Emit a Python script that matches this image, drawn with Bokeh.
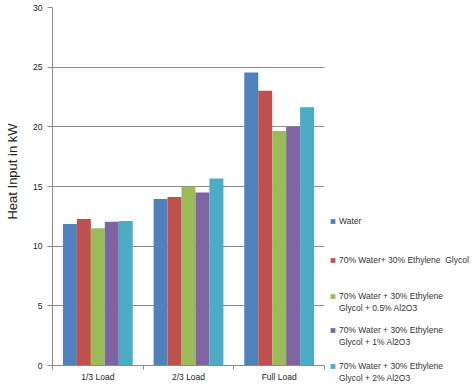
import numpy as np
from bokeh.plotting import figure
from bokeh.layouts import row
from bokeh.models import (ColumnDataSource, FixedTicker, Legend, LegendItem,
                          Label, Range1d)
from bokeh.transform import dodge
from bokeh.embed import file_html
from bokeh.resources import INLINE

categories = ["1/3 Load", "2/3 Load", "Full Load"]
series_labels = [
    ["Water"],
    ["70% Water+ 30% Ethylene  Glycol"],
    ["70% Water + 30% Ethylene", "Glycol + 0.5% Al2O3"],
    ["70% Water + 30% Ethylene", "Glycol + 1% Al2O3"],
    ["70% Water + 30% Ethylene", "Glycol + 2% Al2O3"],
]
water = [11.85, 13.95, 24.56]
water_eg = [12.27, 14.12, 23.03]
eg_al2o3_05 = [11.51, 14.98, 19.66]
eg_al2o3_1 = [12.04, 14.50, 20.00]
eg_al2o3_2 = [12.10, 15.66, 21.65]
series_values = [water, water_eg, eg_al2o3_05, eg_al2o3_1, eg_al2o3_2]
y_ticks = [0, 5, 10, 15, 20, 25, 30]
y_title = "Heat Input in kW"
colors = ["#4F81BD", "#C0504D", "#9BBB59", "#8064A2", "#4BACC6"]

FONT = "Liberation Sans"
GRID = "#8a8a8a"
H = 387

src = ColumnDataSource(dict(
    x=np.arange(len(categories)) + 0.5,
    **{f"s{i}": v for i, v in enumerate(series_values)},
))

# ---- y-axis title strip ----
yl = figure(width=26, height=H, output_backend="svg", toolbar_location=None,
            x_range=Range1d(0, 1), y_range=Range1d(0, 1), min_border=0,
            x_axis_location=None, y_axis_location=None)
yl.frame_align = False
yl.outline_line_color = None
yl.xgrid.grid_line_color = None
yl.ygrid.grid_line_color = None
yl.add_layout(Label(x=12, y=H - 171, x_units="screen", y_units="screen",
                    text=y_title, angle=np.pi / 2, text_align="center",
                    text_baseline="middle", text_font=FONT,
                    text_font_size="13px", text_color="#222222"))

# ---- main chart ----
p = figure(width=300, height=H, output_backend="svg", toolbar_location=None,
           x_range=Range1d(0, len(categories)), y_range=Range1d(0, 30),
           min_border_left=26, min_border_right=2, min_border_top=7,
           min_border_bottom=22)
p.outline_line_color = None
p.background_fill_color = "white"
p.border_fill_color = "white"

bw = 0.154
offsets = [-2 * bw, -bw, 0, bw, 2 * bw]
for i, (col, off) in enumerate(zip(colors, offsets)):
    p.vbar(x=dodge("x", off, range=p.x_range), top=f"s{i}", width=bw,
           source=src, fill_color=col, line_color=None)

p.yaxis.ticker = FixedTicker(ticks=y_ticks, minor_ticks=[])
p.yaxis.axis_line_color = GRID
p.yaxis.major_tick_line_color = GRID
p.yaxis.major_tick_out = 5
p.yaxis.major_tick_in = 0
p.yaxis.minor_tick_line_color = None
p.yaxis.major_label_text_font = FONT
p.yaxis.major_label_text_font_size = "8.5px"
p.yaxis.major_label_text_color = "#222222"
p.yaxis.major_label_standoff = 5

centers = list(np.arange(len(categories)) + 0.5)
p.xaxis.ticker = FixedTicker(ticks=centers,
                             minor_ticks=list(range(len(categories) + 1)))
p.xaxis.major_label_overrides = {float(c): lab for c, lab in zip(centers, categories)}
p.xaxis.axis_line_color = GRID
p.xaxis.major_tick_out = 0
p.xaxis.major_tick_in = 0
p.xaxis.minor_tick_out = 4
p.xaxis.minor_tick_in = 0
p.xaxis.minor_tick_line_color = GRID
p.xaxis.major_label_text_font = FONT
p.xaxis.major_label_text_font_size = "8.5px"
p.xaxis.major_label_text_color = "#222222"
p.xaxis.major_label_standoff = 2

p.xgrid.grid_line_color = None
p.ygrid.grid_line_color = GRID
p.ygrid.grid_line_width = 1

# ---- legend strip (its swatch renderers lie outside its own ranges) ----
lg = figure(width=148, height=H, output_backend="svg", toolbar_location=None,
            x_range=Range1d(100, 101), y_range=Range1d(-200, -100),
            min_border=0, x_axis_location=None, y_axis_location=None)
lg.frame_align = False
lg.outline_line_color = None
lg.xgrid.grid_line_color = None
lg.ygrid.grid_line_color = None

blank = lg.scatter(x="x", y="s0", marker="square", size=5, source=src,
                   fill_alpha=0, line_alpha=0)
legend_bottoms = [160, 121, 73, 39, 3]
for i, (col, lines, yb) in enumerate(zip(colors, series_labels, legend_bottoms)):
    swatch = lg.scatter(x="x", y=f"s{i}", marker="square", size=5, source=src,
                        fill_color=col, line_color=None)
    items = [LegendItem(label=lines[0], renderers=[swatch])]
    items += [LegendItem(label=t, renderers=[blank]) for t in lines[1:]]
    lg.add_layout(Legend(
        items=items, location=(0, yb), orientation="vertical",
        glyph_width=13, glyph_height=12, label_height=12, spacing=0,
        label_standoff=0, padding=0, margin=0,
        border_line_color=None, background_fill_alpha=0,
        label_text_font=FONT, label_text_font_size="8.5px",
        label_text_color="#333333",
    ), "center")

layout = row(yl, p, lg)
open("out.html", "w").write(file_html(layout, INLINE))
